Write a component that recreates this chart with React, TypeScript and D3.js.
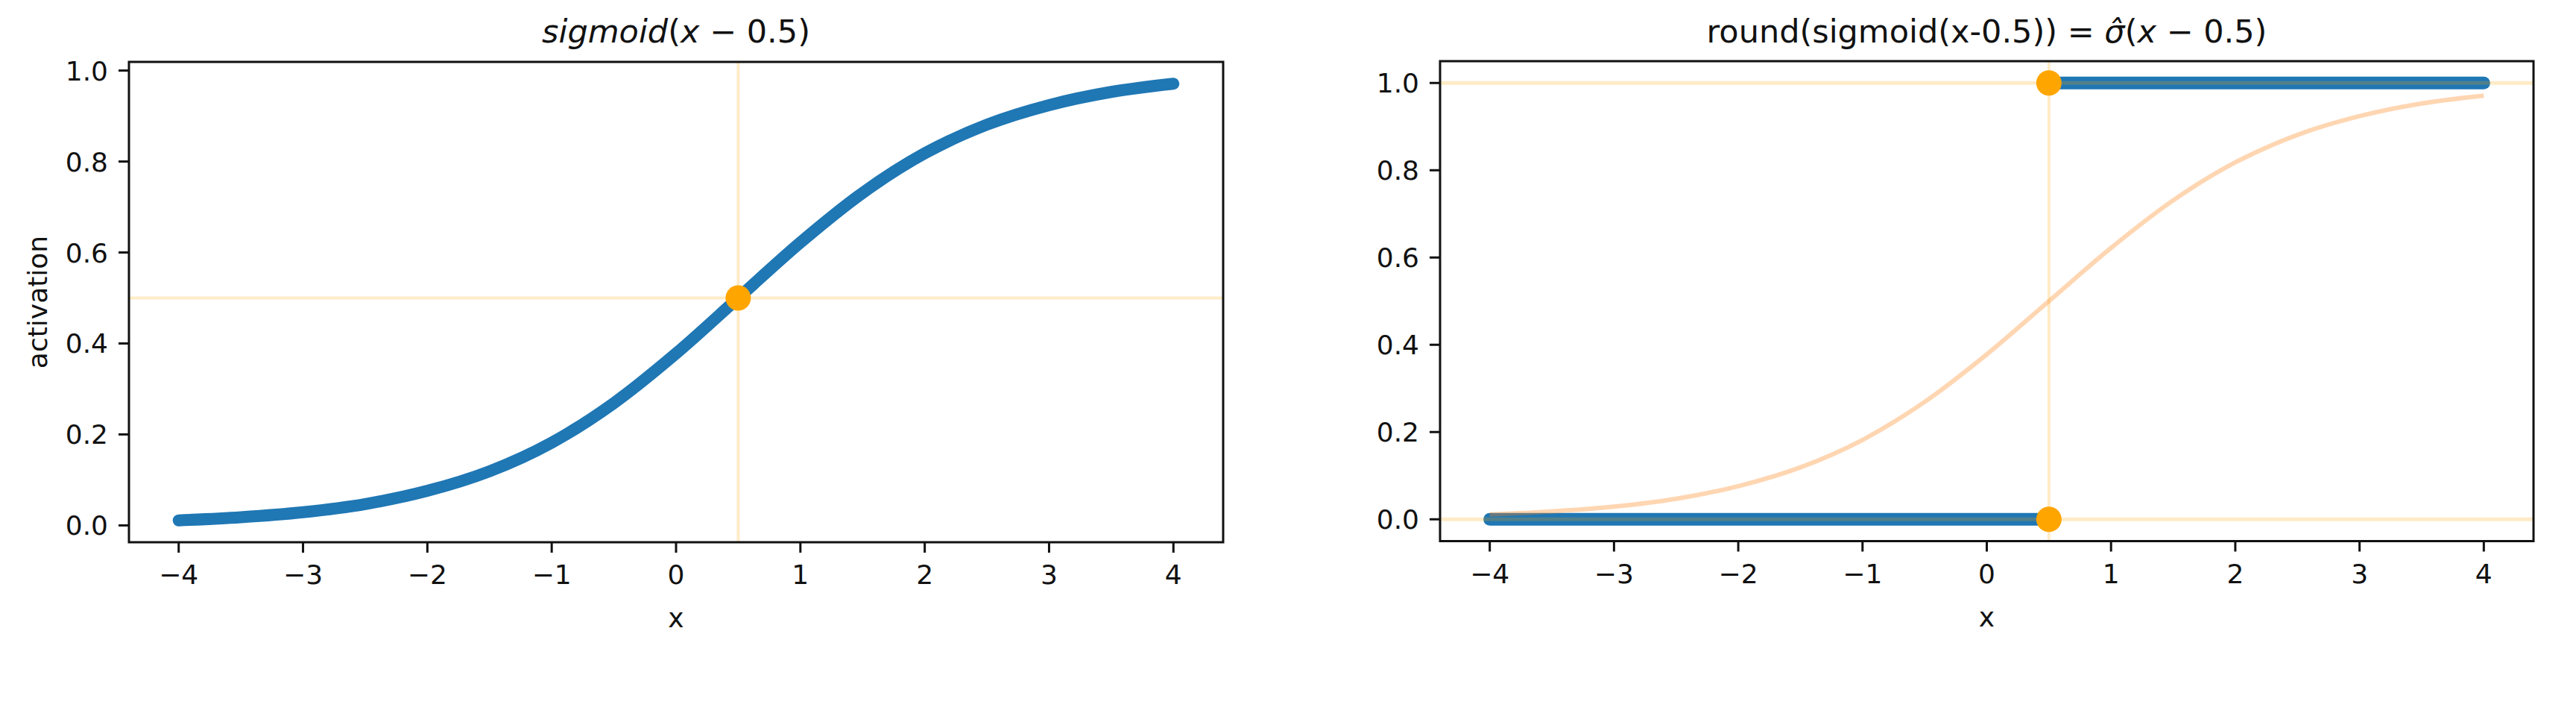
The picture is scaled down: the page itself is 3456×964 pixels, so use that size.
import React from "react";
import * as d3 from "d3";

// ---- data ----
const sigX = [-4, -3.5, -3, -2.5, -2, -1.5, -1, -0.5, 0, 0.5, 1, 1.5, 2, 2.5, 3, 3.5, 4];
const sigY = [0.011, 0.018, 0.029, 0.047, 0.076, 0.119, 0.182, 0.269, 0.378, 0.5, 0.622, 0.731, 0.818, 0.881, 0.924, 0.953, 0.971];
const lowX = [-4, 0.49];
const lowY = [0, 0];
const highX = [0.51, 4];
const highY = [1, 1];
const thresholdX = 0.5;
const leftMarkY = [0.5];
const rightMarkY = [1, 0];
const leftHLines = [0.5];
const rightHLines = [0, 1];
const xTicks = [-4, -3, -2, -1, 0, 1, 2, 3, 4];
const yTicks = [0, 0.2, 0.4, 0.6, 0.8, 1.0];

const FONT = "DejaVu Sans";
const BLUE = "#1f77b4";
const ORANGE = "#ffa500";
const TICK_FS = 36;
const TITLE_FS = 43;

type Pt = [number, number];
const zip = (xs: number[], ys: number[]): Pt[] => xs.map((x, i) => [x, ys[i]]);

function Axes({ x0, x1, y0, y1, yDomain, children, title, ylabel }: any) {
  const xs = d3.scaleLinear().domain([-4.4, 4.4]).range([x0, x1]);
  const ys = d3.scaleLinear().domain(yDomain).range([y1, y0]);
  const fmtX = (v: number) => (v < 0 ? "\u2212" + Math.abs(v) : String(v));
  return (
    <g>
      {children(xs, ys)}
      <rect x={x0} y={y0} width={x1 - x0} height={y1 - y0} fill="none" stroke="#111" strokeWidth={3} />
      {xTicks.map((t) => (
        <g key={"x" + t}>
          <line x1={xs(t)} x2={xs(t)} y1={y1} y2={y1 + 14} stroke="#111" strokeWidth={3} />
          <text x={xs(t)} y={y1 + 56} textAnchor="middle" fontFamily={FONT} fontSize={TICK_FS} fill="#111">
            {fmtX(t)}
          </text>
        </g>
      ))}
      {yTicks.map((t) => (
        <g key={"y" + t}>
          <line x1={x0 - 14} x2={x0} y1={ys(t)} y2={ys(t)} stroke="#111" strokeWidth={3} />
          <text x={x0 - 28} y={ys(t) + 13} textAnchor="end" fontFamily={FONT} fontSize={TICK_FS} fill="#111">
            {t.toFixed(1)}
          </text>
        </g>
      ))}
      <text x={(x0 + x1) / 2} y={y1 + 114} textAnchor="middle" fontFamily={FONT} fontSize={TICK_FS} fill="#111">
        x
      </text>
      {ylabel && (
        <text
          transform={`translate(${x0 - 110},${(y0 + y1) / 2}) rotate(-90)`}
          textAnchor="middle"
          fontFamily={FONT}
          fontSize={TICK_FS}
          fill="#111"
        >
          {ylabel}
        </text>
      )}
      <text x={(x0 + x1) / 2} y={57} textAnchor="middle" fontFamily={FONT} fontSize={TITLE_FS} fill="#111">
        {title}
      </text>
    </g>
  );
}

export default function App() {
  const sig = zip(sigX, sigY);
  const lo = zip(lowX, lowY);
  const hi = zip(highX, highY);
  const pad = (a: number, b: number): [number, number] => [a - (b - a) * 0.05, b + (b - a) * 0.05];
  const leftDomain = pad(d3.min(sigY)!, d3.max(sigY)!);
  const rightDomain = pad(0, 1);

  return (
    <svg width={3456} height={964} style={{ position: "absolute", left: 0, top: 0, background: "#fff" }}>
      <rect width={3456} height={964} fill="#fff" />
      <Axes
        x0={173}
        x1={1641}
        y0={83}
        y1={727}
        yDomain={leftDomain}
        ylabel="activation"
        title={
          <>
            <tspan fontStyle="italic">sigmoid</tspan>
            <tspan>(</tspan>
            <tspan fontStyle="italic">x</tspan>
            <tspan>{" \u2212 0.5)"}</tspan>
          </>
        }
      >
        {(xs: any, ys: any) => {
          const line = d3.line<Pt>().x((d) => xs(d[0])).y((d) => ys(d[1])).curve(d3.curveMonotoneX);
          return (
            <g>
              {leftHLines.map((h) => (
                <line key={h} x1={173} x2={1641} y1={ys(h)} y2={ys(h)} stroke={ORANGE} strokeOpacity={0.22} strokeWidth={4} />
              ))}
              <line x1={xs(thresholdX)} x2={xs(thresholdX)} y1={83} y2={727} stroke={ORANGE} strokeOpacity={0.22} strokeWidth={4} />
              <path d={line(sig)!} fill="none" stroke={BLUE} strokeWidth={16} strokeLinecap="round" strokeLinejoin="round" />
              {leftMarkY.map((m) => (
                <circle key={m} cx={xs(thresholdX)} cy={ys(m)} r={17} fill={ORANGE} />
              ))}
            </g>
          );
        }}
      </Axes>
      <Axes
        x0={1932}
        x1={3399}
        y0={82}
        y1={725.5}
        yDomain={rightDomain}
        title={
          <>
            <tspan>{"round(sigmoid(x-0.5)) = "}</tspan>
            <tspan fontStyle="italic">{"\u03c3\u0302"}</tspan>
            <tspan>(</tspan>
            <tspan fontStyle="italic">x</tspan>
            <tspan>{" \u2212 0.5)"}</tspan>
          </>
        }
      >
        {(xs: any, ys: any) => {
          const line = d3.line<Pt>().x((d) => xs(d[0])).y((d) => ys(d[1]));
          const sline = d3.line<Pt>().x((d) => xs(d[0])).y((d) => ys(d[1])).curve(d3.curveMonotoneX);
          return (
            <g>
              <line x1={xs(thresholdX)} x2={xs(thresholdX)} y1={82} y2={725.5} stroke={ORANGE} strokeOpacity={0.22} strokeWidth={4} />
              <path d={line(lo)!} fill="none" stroke={BLUE} strokeWidth={17} strokeLinecap="round" />
              <path d={line(hi)!} fill="none" stroke={BLUE} strokeWidth={17} strokeLinecap="round" />
              {rightHLines.map((h) => (
                <line key={h} x1={1932} x2={3399} y1={ys(h)} y2={ys(h)} stroke={ORANGE} strokeOpacity={0.22} strokeWidth={5} />
              ))}
              <path d={sline(sig)!} fill="none" stroke="#ff7f0e" strokeOpacity={0.32} strokeWidth={6} />
              {rightMarkY.map((m) => (
                <circle key={m} cx={xs(thresholdX)} cy={ys(m)} r={17} fill={ORANGE} />
              ))}
            </g>
          );
        }}
      </Axes>
    </svg>
  );
}
